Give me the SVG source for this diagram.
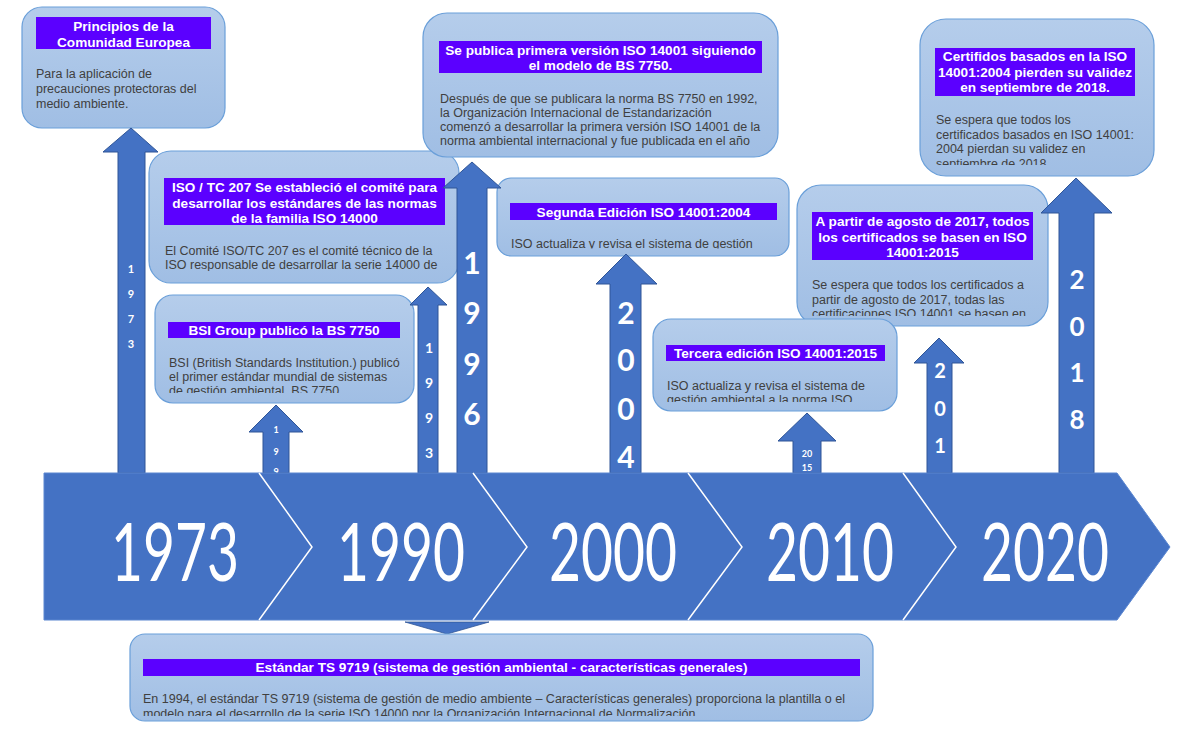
<svg xmlns="http://www.w3.org/2000/svg" width="1200" height="729" viewBox="0 0 1200 729">
<defs>
<linearGradient id="boxg" x1="0" y1="0" x2="0" y2="1">
<stop offset="0" stop-color="#B5CDEB"/>
<stop offset="1" stop-color="#A0BEE4"/>
</linearGradient>
<clipPath id="c2"><rect x="150" y="240" width="308" height="31"/></clipPath>
<clipPath id="c3"><rect x="156" y="350" width="257" height="43"/></clipPath>
<clipPath id="c4"><rect x="424" y="85" width="353" height="63"/></clipPath>
<clipPath id="c5"><rect x="498" y="230" width="290" height="18.5"/></clipPath>
<clipPath id="c6"><rect x="921" y="107" width="232" height="58"/></clipPath>
<clipPath id="c7"><rect x="798" y="272" width="249" height="44"/></clipPath>
<clipPath id="c8"><rect x="654" y="372" width="242" height="30"/></clipPath>
<clipPath id="c9"><rect x="131" y="686" width="741" height="30"/></clipPath>
</defs>
<style>
.box{fill:url(#boxg);stroke:#6A9FD9;stroke-width:1.2}
.ttl{fill:#5B00FF}
.tt{font-family:"Liberation Sans",Arial,sans-serif;font-weight:bold;font-size:13.6px;fill:#FFFFFF;text-anchor:middle}
.bd{font-family:"Liberation Sans",Arial,sans-serif;font-size:12.5px;fill:#404040}
.arr{fill:#4472C4;stroke:#2F5597;stroke-width:1}
.dg{font-family:Lato,"Open Sans",sans-serif;font-weight:bold;fill:#FFFFFF;text-anchor:middle}
.yr{font-family:Lato,"Open Sans",sans-serif;font-weight:400;font-size:82px;fill:#FFFFFF;text-anchor:middle}
.div{fill:none;stroke:#FFFFFF;stroke-width:1.5}
</style>
<rect width="1200" height="729" fill="#FFFFFF"/>

<g id="box-1973">
<rect class="box" x="22" y="7" width="203" height="121" rx="20"/>
<rect class="ttl" x="36" y="17" width="175" height="32"/>
<text class="tt" x="123.5" y="31">Principios de la</text>
<text class="tt" x="123.5" y="47">Comunidad Europea</text>
<text class="bd" x="36" y="77.5">Para la aplicación de</text>
<text class="bd" x="36" y="92.5">precauciones protectoras del</text>
<text class="bd" x="36" y="107.5">medio ambiente.</text>
</g>

<g id="box-1993">
<rect class="box" x="149" y="151" width="310" height="132" rx="22"/>
<rect class="ttl" x="164" y="178" width="281" height="47"/>
<text class="tt" x="304.5" y="192">ISO / TC 207 Se estableció el comité para</text>
<text class="tt" x="304.5" y="208">desarrollar los estándares de las normas</text>
<text class="tt" x="304.5" y="223">de la familia ISO 14000</text>
<g clip-path="url(#c2)">
<text class="bd" x="165" y="254.5">El Comité ISO/TC 207 es el comité técnico de la</text>
<text class="bd" x="165" y="268.5">ISO responsable de desarrollar la serie 14000 de</text>
</g>
</g>

<g id="box-1990">
<rect class="box" x="155" y="295" width="259" height="108" rx="18"/>
<rect class="ttl" x="168" y="322" width="232" height="16"/>
<text class="tt" x="284" y="335">BSI Group publicó la BS 7750</text>
<g clip-path="url(#c3)">
<text class="bd" x="169" y="366.5">BSI (British Standards Institution.) publicó</text>
<text class="bd" x="169" y="380.5">el primer estándar mundial de sistemas</text>
<text class="bd" x="169" y="394.5">de gestión ambiental, BS 7750</text>
</g>
</g>

<g id="box-1996">
<rect class="box" x="423" y="13" width="355" height="144" rx="24"/>
<rect class="ttl" x="439" y="41" width="323" height="32"/>
<text class="tt" x="600.5" y="55">Se publica primera versión ISO 14001 siguiendo</text>
<text class="tt" x="600.5" y="70">el modelo de BS 7750.</text>
<g clip-path="url(#c4)">
<text class="bd" x="440" y="102.5">Después de que se publicara la norma BS 7750 en 1992,</text>
<text class="bd" x="440" y="116.5">la Organización Internacional de Estandarización</text>
<text class="bd" x="440" y="130.5">comenzó a desarrollar la primera versión ISO 14001 de la</text>
<text class="bd" x="440" y="144.5">norma ambiental internacional y fue publicada en el año</text>
</g>
</g>

<g id="box-2004">
<rect class="box" x="497" y="178" width="292" height="78" rx="14"/>
<rect class="ttl" x="510" y="203" width="267" height="17"/>
<text class="tt" x="643.5" y="217">Segunda Edición ISO 14001:2004</text>
<g clip-path="url(#c5)">
<text class="bd" x="511" y="247.5">ISO actualiza y revisa el sistema de gestión</text>
</g>
</g>

<g id="box-2018">
<rect class="box" x="920" y="19" width="234" height="157" rx="26"/>
<rect class="ttl" x="935" y="48" width="200" height="48"/>
<text class="tt" x="1035" y="61">Certifidos basados en la ISO</text>
<text class="tt" x="1035" y="77">14001:2004 pierden su validez</text>
<text class="tt" x="1035" y="92">en septiembre de 2018.</text>
<g clip-path="url(#c6)">
<text class="bd" x="936" y="123.5">Se espera que todos los</text>
<text class="bd" x="936" y="138.5">certificados basados en ISO 14001:</text>
<text class="bd" x="936" y="152.5">2004 pierdan su validez en</text>
<text class="bd" x="936" y="167.5">septiembre de 2018</text>
</g>
</g>

<g id="box-2017">
<rect class="box" x="797" y="185" width="251" height="141" rx="24"/>
<rect class="ttl" x="812" y="212" width="221" height="48"/>
<text class="tt" x="922.5" y="226">A partir de agosto de 2017, todos</text>
<text class="tt" x="922.5" y="242">los certificados se basen en ISO</text>
<text class="tt" x="922.5" y="257">14001:2015</text>
<g clip-path="url(#c7)">
<text class="bd" x="812" y="288.5">Se espera que todos los certificados a</text>
<text class="bd" x="812" y="303.5">partir de agosto de 2017, todas las</text>
<text class="bd" x="812" y="317.5">certificaciones ISO 14001 se basen en</text>
</g>
</g>

<g id="box-2015">
<rect class="box" x="653" y="319" width="244" height="92" rx="18"/>
<rect class="ttl" x="666" y="345" width="219" height="16"/>
<text class="tt" x="775.5" y="358">Tercera edición ISO 14001:2015</text>
<g clip-path="url(#c8)">
<text class="bd" x="667" y="389.5">ISO actualiza y revisa el sistema de</text>
<text class="bd" x="667" y="403.5">gestión ambiental a la norma ISO</text>
</g>
</g>

<g id="connectors">
<polygon class="arr" points="131,128 158,152 145,152 145,473 118,473 118,152 103,152"/>
<polygon class="arr" points="276,405 303,432 289,432 289,473 263,473 263,432 249,432"/>
<polygon class="arr" points="428,287 447,305 438,305 438,473 418,473 418,305 410,305"/>
<polygon class="arr" points="472,162 501,188 487,188 487,473 457,473 457,188 443,188"/>
<polygon class="arr" points="626,254 657,284 641,284 641,473 610,473 610,284 596,284"/>
<polygon class="arr" points="807,413 836,441 821,441 821,473 793,473 793,441 778,441"/>
<polygon class="arr" points="939,338 964,363 952,363 952,473 927,473 927,363 914,363"/>
<polygon class="arr" points="1076,178 1112,213 1094,213 1094,473 1059,473 1059,213 1041,213"/>
<polygon points="405,622 489,622 447,634" fill="#4472C4" stroke="#2F5597" stroke-width="0.8"/>
</g>

<g id="arrow-labels">
<g class="dg" font-size="11">
<text x="131" y="273">1</text><text x="131" y="298">9</text><text x="131" y="323">7</text><text x="131" y="348">3</text>
</g>
<g class="dg" font-size="9">
<text x="276" y="433">1</text><text x="276" y="455">9</text><text x="276" y="475">9</text>
</g>
<g class="dg" font-size="14">
<text x="429" y="353">1</text><text x="429" y="388">9</text><text x="429" y="423">9</text><text x="429" y="458">3</text>
</g>
<g class="dg" font-size="30">
<text x="472" y="274">1</text><text x="472" y="324">9</text><text x="472" y="375">9</text><text x="472" y="425">6</text>
</g>
<g class="dg" font-size="30">
<text x="626" y="324">2</text><text x="626" y="371">0</text><text x="626" y="420">0</text><text x="626" y="468">4</text>
</g>
<g class="dg" font-size="9">
<text x="807" y="457">20</text><text x="807" y="471">15</text>
</g>
<g class="dg" font-size="20">
<text x="940" y="378">2</text><text x="940" y="416">0</text><text x="940" y="453">1</text>
</g>
<g class="dg" font-size="26">
<text x="1077" y="289">2</text><text x="1077" y="336">0</text><text x="1077" y="382">1</text><text x="1077" y="429">8</text>
</g>
</g>

<g id="timeline">
<polygon points="44,473 1117,473 1170,547 1117,620 44,620" fill="#4472C4" stroke="#5B86D0" stroke-width="1"/>
<polyline class="div" points="259,473 312,547 259,620"/>
<polyline class="div" points="473,473 527,547 473,620"/>
<polyline class="div" points="688,473 742,547 688,620"/>
<polyline class="div" points="903,473 956,547 903,620"/>
<text class="yr" x="175" y="581" textLength="128" lengthAdjust="spacingAndGlyphs">1973</text>
<text class="yr" x="401" y="581" textLength="128" lengthAdjust="spacingAndGlyphs">1990</text>
<text class="yr" x="613" y="581" textLength="128" lengthAdjust="spacingAndGlyphs">2000</text>
<text class="yr" x="830" y="581" textLength="128" lengthAdjust="spacingAndGlyphs">2010</text>
<text class="yr" x="1045" y="581" textLength="128" lengthAdjust="spacingAndGlyphs">2020</text>
</g>

<g id="box-1994">
<rect class="box" x="130" y="634" width="743" height="87" rx="15"/>
<rect class="ttl" x="143" y="659" width="717" height="17"/>
<text class="tt" x="501.5" y="672" textLength="492" lengthAdjust="spacingAndGlyphs">Estándar TS 9719 (sistema de gestión ambiental - características generales)</text>
<g clip-path="url(#c9)">
<text class="bd" x="143" y="702.5" textLength="702" lengthAdjust="spacingAndGlyphs">En 1994, el estándar TS 9719 (sistema de gestión de medio ambiente – Características generales) proporciona la plantilla o el</text>
<text class="bd" x="143" y="717.5">modelo para el desarrollo de la serie ISO 14000 por la Organización Internacional de Normalización</text>
</g>
</g>
</svg>
